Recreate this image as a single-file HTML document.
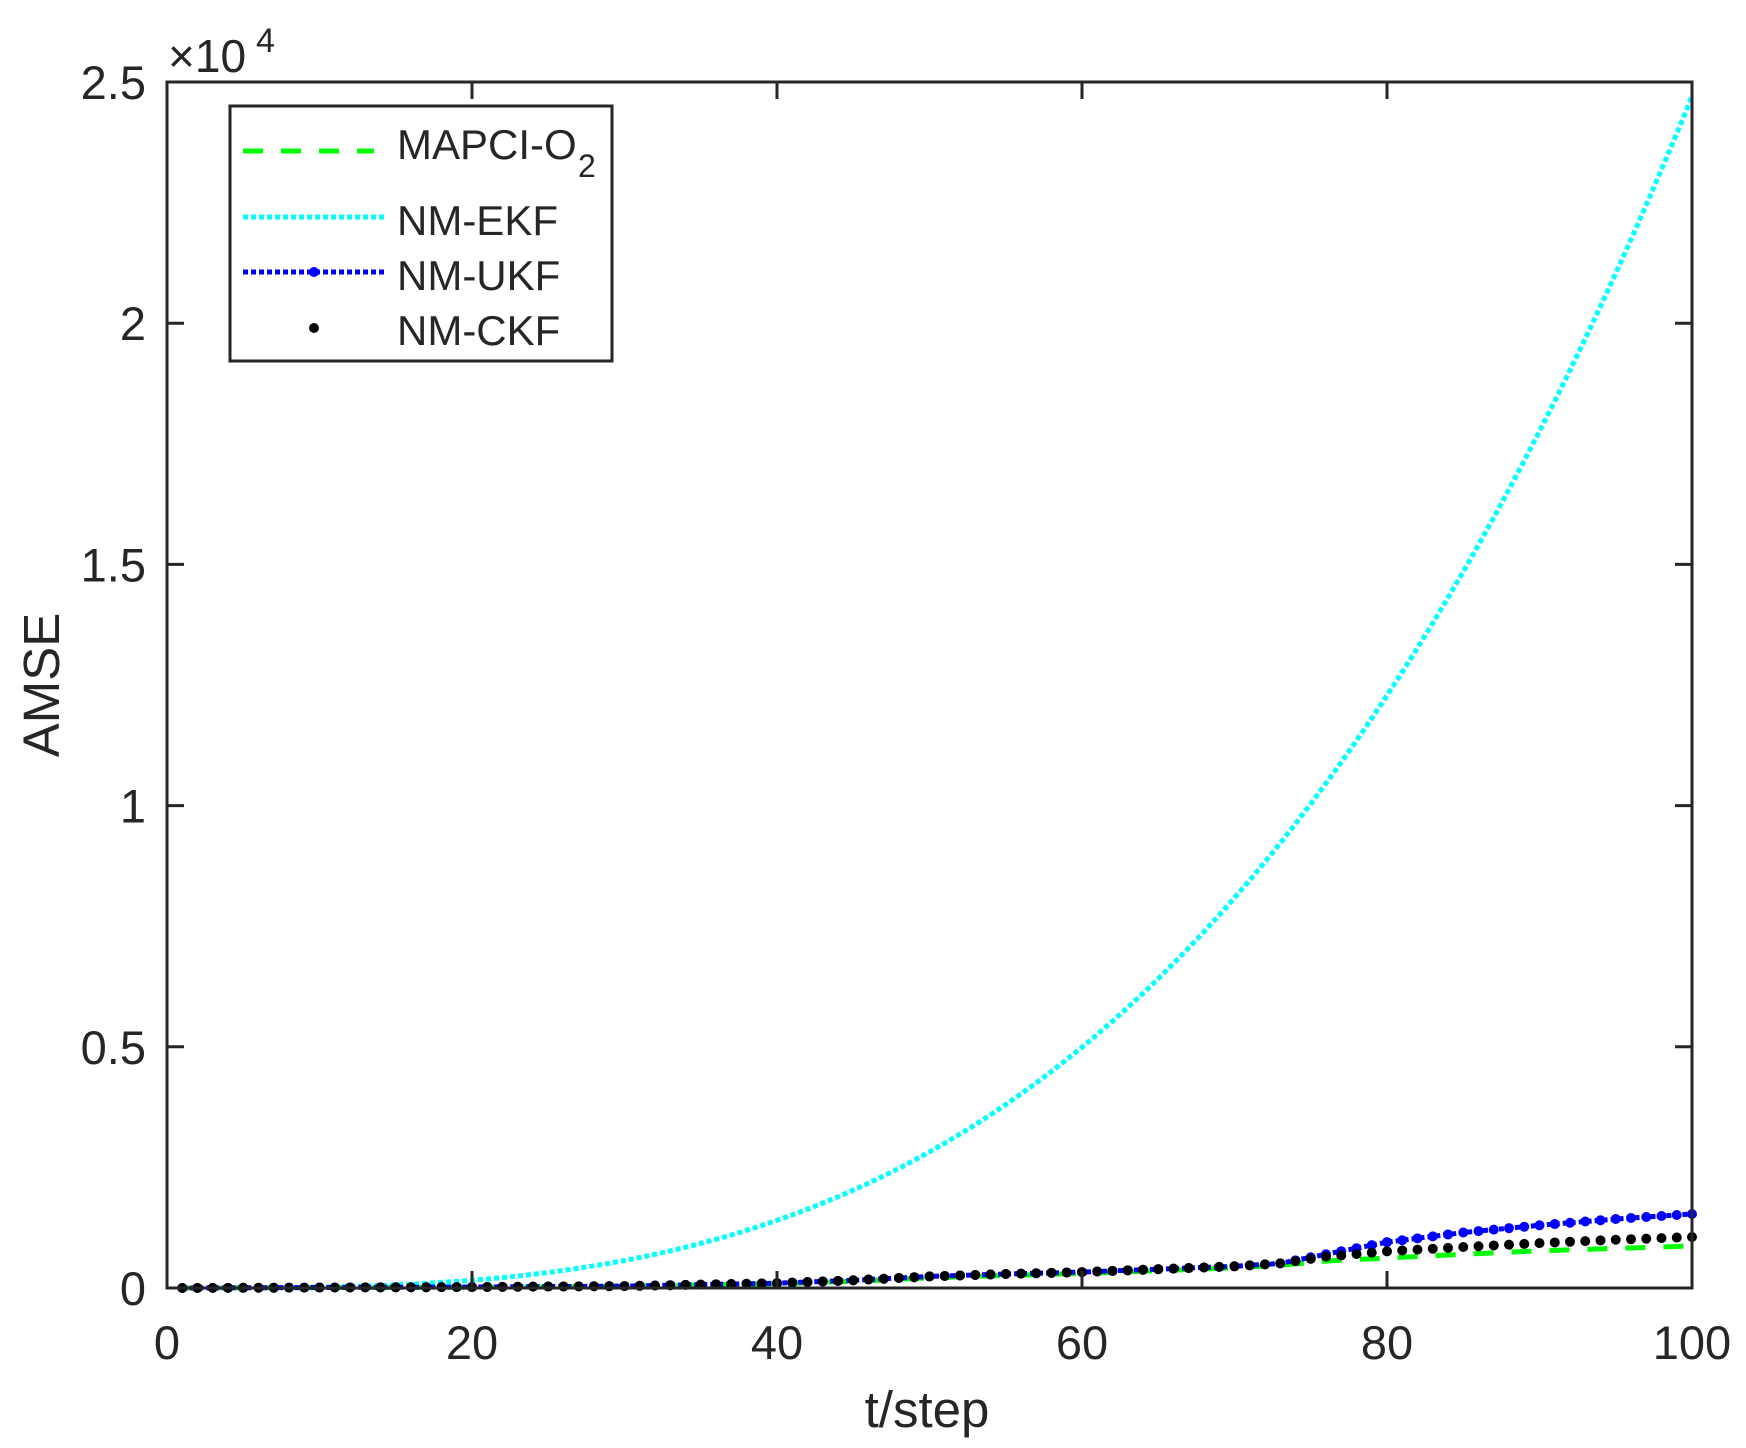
<!DOCTYPE html>
<html><head><meta charset="utf-8"><style>
html,body{margin:0;padding:0;background:#fff;}
svg{display:block;}
text{font-family:"Liberation Sans",Arial,sans-serif;fill:#262626;}
</style></head><body>
<svg id="s" width="1746" height="1448" viewBox="0 0 1746 1448" xmlns="http://www.w3.org/2000/svg">
<rect width="1746" height="1448" fill="#fff"/>
<g id="series"></g>
<rect x="167" y="82" width="1525" height="1206" fill="none" stroke="#262626" stroke-width="3"/>
<g id="ticks" stroke="#262626" stroke-width="3"></g>
<g id="labels" font-size="47"></g>
<text x="168" y="72" font-size="46">×10</text>
<text x="256" y="52" font-size="34">4</text>
<text x="927" y="1427" font-size="51" text-anchor="middle">t/step</text>
<text transform="translate(59,685) rotate(-90)" font-size="51" text-anchor="middle">AMSE</text>
<rect x="230" y="106" width="382" height="255" fill="#fff" stroke="#262626" stroke-width="3"/>
<line x1="243" y1="151" x2="374" y2="151" stroke="#00ff00" stroke-width="5" stroke-dasharray="20,18"/>
<line x1="243" y1="217" x2="384" y2="217" stroke="#00ffff" stroke-width="5" stroke-dasharray="5,3"/>
<line x1="243" y1="272" x2="384" y2="272" stroke="#0000ff" stroke-width="5" stroke-dasharray="5,3"/>
<circle cx="314" cy="272" r="5" fill="#0000ff"/>
<circle cx="314" cy="328" r="5" fill="#000"/>
<text x="397" y="159" font-size="42" fill="#000">MAPCI-O</text>
<text x="578" y="177" font-size="32" fill="#000">2</text>
<text x="397" y="235" font-size="42" fill="#000">NM-EKF</text>
<text x="397" y="290" font-size="42" fill="#000">NM-UKF</text>
<text x="397" y="345" font-size="42" fill="#000">NM-CKF</text>
</svg>
<script>
var NS="http://www.w3.org/2000/svg";
function el(n,a,p){var e=document.createElementNS(NS,n);for(var k in a)e.setAttribute(k,a[k]);p.appendChild(e);return e;}
var X0=167,X1=1692,Y0=1288,Y1=82;
function px(t){return X0+(t)/100*(X1-X0);}
function py(v){return Y0-v/25000*(Y0-Y1);}
var tk=document.getElementById('ticks'),lb=document.getElementById('labels');
for(var i=0;i<=5;i++){var t=i*20,x=px(t);
 el('line',{x1:x,y1:Y0,x2:x,y2:Y0-17},tk);el('line',{x1:x,y1:Y1,x2:x,y2:Y1+17},tk);
 var tx=el('text',{x:x,y:1359,'text-anchor':'middle'},lb);tx.textContent=t;}
var yl=['0','0.5','1','1.5','2','2.5'];
for(var i=0;i<=5;i++){var y=py(i*5000);
 el('line',{x1:X0,y1:y,x2:X0+17,y2:y},tk);el('line',{x1:X1,y1:y,x2:X1-17,y2:y},tk);
 var tx=el('text',{x:146,y:y+17,'text-anchor':'end'},lb);tx.textContent=yl[i];}
function interp(a,t){for(var i=0;i<a.length-1;i++){if(t<=a[i+1][0]){var f=(t-a[i][0])/(a[i+1][0]-a[i][0]);return a[i][1]+f*(a[i+1][1]-a[i][1]);}}return a[a.length-1][1];}
var base=[[1,0],[20,20],[30,40],[40,100],[45,160],[50,240],[55,290],[60,330],[65,390],[70,450],[73,510]];
var blue=base.concat([[76,700],[80,950],[85,1150],[90,1300],[95,1430],[100,1534]]);
var black=base.concat([[76,650],[80,760],[85,850],[90,930],[95,1000],[100,1057]]);
var green=[[1,0],[20,15],[30,35],[40,90],[45,140],[50,210],[55,260],[60,300],[65,360],[70,420],[73,470],[76,560],[80,620],[85,700],[90,770],[95,820],[100,870]];
var g=document.getElementById('series');
function pts(f){var s=[];for(var t=1;t<=100;t++)s.push(px(t).toFixed(1)+','+py(f(t)).toFixed(1));return s.join(' ');}
el('polyline',{points:pts(function(t){return interp(green,t);}),fill:'none',stroke:'#00ff00','stroke-width':5,'stroke-dasharray':'20,18'},g);
el('polyline',{points:pts(function(t){return 24700*Math.pow(t/100,3.13);}),fill:'none',stroke:'#00ffff','stroke-width':5,'stroke-dasharray':'5,3'},g);
el('polyline',{points:pts(function(t){return interp(blue,t);}),fill:'none',stroke:'#0000ff','stroke-width':5,'stroke-dasharray':'5,3'},g);
for(var t=1;t<=100;t++){el('circle',{cx:px(t),cy:py(interp(blue,t)),r:5,fill:'#0000ff'},g);}
for(var t=1;t<=100;t++){el('circle',{cx:px(t),cy:py(interp(black,t)),r:5,fill:'#000'},g);}
</script>
</body></html>
